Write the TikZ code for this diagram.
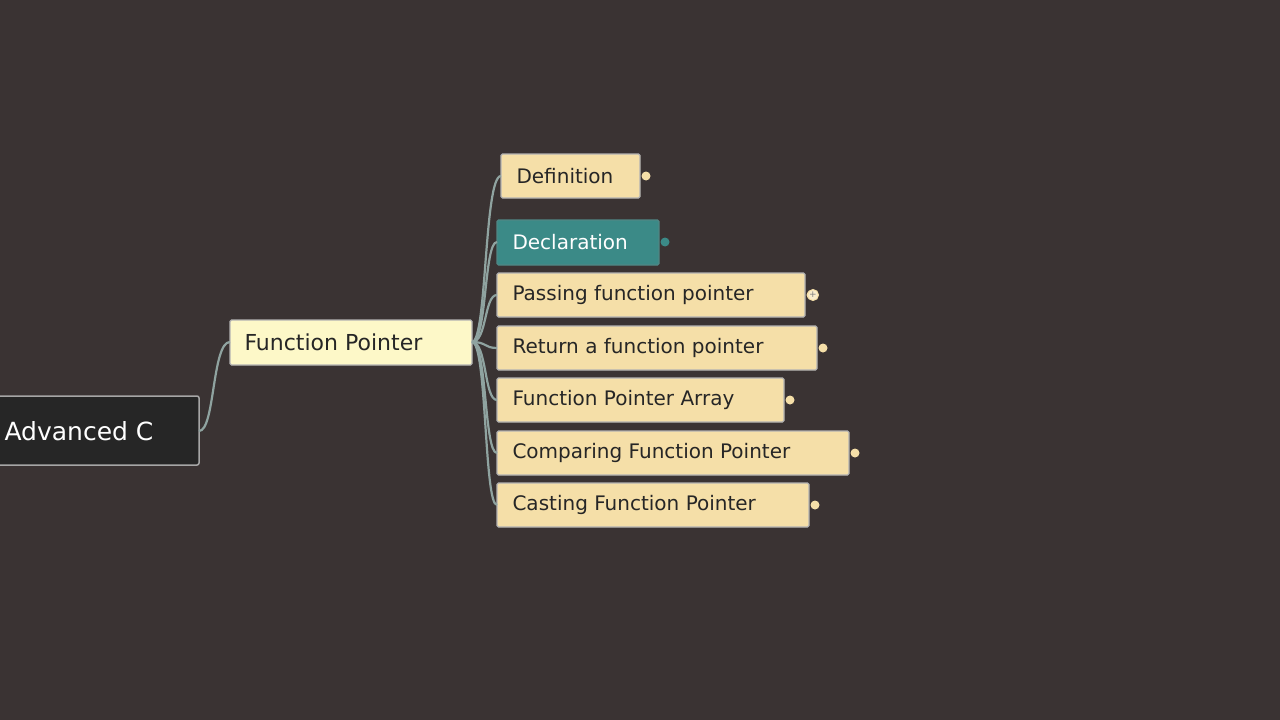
\documentclass[tikz,border=0pt]{standalone}
\usepackage{fontspec}
\setmainfont{DejaVu Sans}
\definecolor{bg}{HTML}{3A3333}
\definecolor{leaf}{HTML}{F5DFA8}
\definecolor{mid}{HTML}{FDF8C8}
\definecolor{teal}{HTML}{3B8A87}
\definecolor{edge}{HTML}{8FA3A0}
\begin{document}
\begin{tikzpicture}[x=1pt,y=-1pt,
  box/.style={draw=#1!70!gray,line width=1.2pt,rounded corners=1.5pt,anchor=north west,inner sep=0pt},
  lbl/.style={anchor=west,font=\fontsize{20}{22}\selectfont,text=black!85},
  con/.style={draw=edge,line width=2.2pt},
  dot/.style={circle,fill=leaf,inner sep=0pt,minimum size=9pt}]
\fill[bg] (0,0) rectangle (1280,720);
\useasboundingbox (0,0) rectangle (1280,720);
% root
\filldraw[fill=black!85,draw=gray!70,line width=1.5pt,rounded corners=2pt] (-5,396) rectangle (199,465);
\node[lbl,text=white!90,font=\fontsize{25}{27}\selectfont] (root) at (1,431) {Advanced C};
\coordinate (rootR) at (199,431);
% function pointer
\filldraw[fill=mid,draw=gray!60,line width=1.2pt,rounded corners=1.5pt] (230,320) rectangle (472,365);
\node[lbl,font=\fontsize{22}{24}\selectfont] (fp) at (241,342) {Function Pointer};
\coordinate (fpL) at (230,342);
\coordinate (fpR) at (472,342);
\draw[con] (rootR) .. controls (215,431) and (212,342) .. (fpL);
% children
\foreach \n/\x/\y/\w/\t in {def/501/154/640/Definition,pass/497/273/805/Passing function pointer,ret/497/326/817/Return a function pointer,arr/497/378/784/Function Pointer Array,cmp/497/431/849/Comparing Function Pointer,cast/497/483/809/Casting Function Pointer}{
  \filldraw[fill=leaf,draw=gray!60,line width=1.2pt,rounded corners=1.5pt] (\x,\y) rectangle (\w,\y+44);
  \node[lbl] (\n) at (\x+12,\y+22) {\t};
  \coordinate (\n L) at (\x,\y+22);
  \node[dot] (\n D) at (\w+6,\y+22) {};
  \draw[con] (fpR) .. controls (487,342) and (484,\y+22) .. (\n L);
}
\filldraw[fill=teal,draw=teal!70!gray,line width=1.2pt,rounded corners=1.5pt] (497,220) rectangle (659,265);
\node[lbl,text=white!92] (dec) at (509,242) {Declaration};
\coordinate (decL) at (497,242);
\node[dot,fill=teal] (decD) at (665,242) {};
\draw[con] (fpR) .. controls (487,342) and (484,242) .. (decL);
\node[circle,draw=leaf,fill=leaf!60,line width=1pt,inner sep=0pt,minimum size=11pt,font=\fontsize{9}{9}\selectfont,text=gray] at (813,295) {+};
\end{tikzpicture}
\end{document}
